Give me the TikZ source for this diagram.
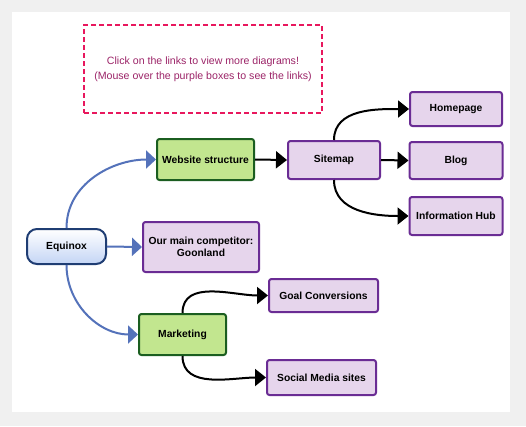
\documentclass[tikz,border=0pt]{standalone}
\usepackage{fontspec}
\setmainfont{Liberation Sans}
\usetikzlibrary{arrows.meta,shapes.misc}
\definecolor{bggray}{HTML}{F0F0F0}
\definecolor{greenfill}{HTML}{C2E68F}
\definecolor{greenline}{HTML}{1B5E20}
\definecolor{purplefill}{HTML}{E6D5EC}
\definecolor{purpleline}{HTML}{6A2C94}
\definecolor{bluefillbot}{HTML}{C4D5F5}
\definecolor{blueline}{HTML}{1F3D73}
\definecolor{bluearrow}{HTML}{5472BA}
\definecolor{dashpink}{HTML}{E8175D}
\definecolor{notetext}{HTML}{9C2468}
\begin{document}
\begin{tikzpicture}[x=1pt,y=-1pt,
  box/.style={draw, line width=2pt, rounded corners=2.5pt, font=\fontsize{10.3}{12.5}\selectfont\bfseries, align=center, inner sep=1pt},
  greenbox/.style={box, fill=greenfill, draw=greenline},
  purplebox/.style={box, fill=purplefill, draw=purpleline},
  bluelink/.style={draw=bluearrow, line width=2pt, -{Triangle[length=10pt,width=18pt]}},
  blacklink/.style={draw=black, line width=2pt, -{Triangle[length=11pt,width=17pt]}}]
\useasboundingbox (0,0) rectangle (526,426);
\fill[bggray] (0,0) rectangle (526,426);
\fill[white] (12,12) rectangle (510,412);

\node[draw=dashpink, dash pattern=on 5pt off 3pt, line width=2pt, minimum width=238pt, minimum height=88pt, text=notetext, align=center, font=\fontsize{10.6}{15}\selectfont] (note) at (203,69) {Click on the links to view more diagrams!\\(Mouse over the purple boxes to see the links)};

\node[box, draw=blueline, rounded corners=10pt, top color=white, bottom color=bluefillbot, minimum width=79pt, minimum height=35pt] (eq) at (66.5,246.5) {Equinox};
\node[greenbox, minimum width=97pt, minimum height=41pt] (web) at (205.5,159.5) {Website structure};
\node[purplebox, minimum width=116pt, minimum height=50pt] (comp) at (201,247) {Our main competitor:\\Goonland};
\node[greenbox, minimum width=87pt, minimum height=41pt] (mkt) at (182.5,334.5) {Marketing};
\node[purplebox, minimum width=92pt, minimum height=38pt] (site) at (334,160) {Sitemap};
\node[purplebox, minimum width=92pt, minimum height=34pt] (home) at (456,109) {Homepage};
\node[purplebox, minimum width=93pt, minimum height=37pt] (blog) at (456,160.5) {Blog};
\node[purplebox, minimum width=93pt, minimum height=38pt] (info) at (456,216) {Information Hub};
\node[purplebox, minimum width=109pt, minimum height=33pt] (goal) at (323.5,295.5) {Goal Conversions};
\node[purplebox, minimum width=109pt, minimum height=35pt] (social) at (321.5,377.5) {Social Media sites};

\draw[bluelink] (eq.north) to[out=90,in=180] (web.west);
\draw[bluelink] (eq.east) -- (comp.west);
\draw[bluelink] (eq.south) to[out=-90,in=180] (mkt.west);
\draw[blacklink] (web.east) -- (site.west);
\draw[blacklink] (site.north) to[out=90,in=180] (home.west);
\draw[blacklink] (site.east) -- (blog.west);
\draw[blacklink] (site.south) to[out=-90,in=180] (info.west);
\draw[blacklink] (mkt.north) to[out=90,in=180] (goal.west);
\draw[blacklink] (mkt.south) to[out=-90,in=180] (social.west);
\end{tikzpicture}
\end{document}
